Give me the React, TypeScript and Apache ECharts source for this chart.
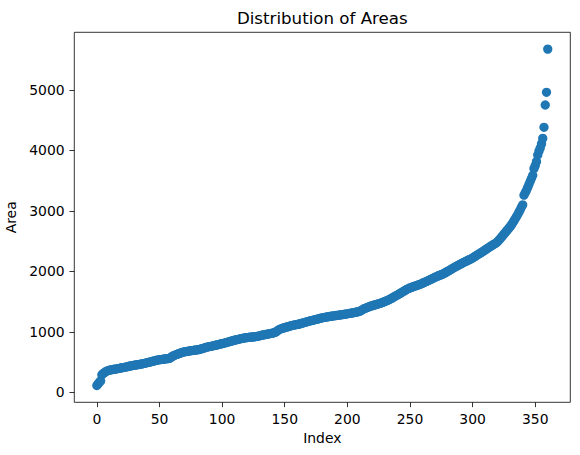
import React, { useEffect, useRef } from "react";
import * as echarts from "echarts";

const areas: number[] = [
  113, 140, 165, 190, 290, 310, 325, 340, 352, 360,
  365, 370, 374, 378, 382, 385, 389, 393, 397, 402,
  405, 409, 413, 418, 422, 427, 432, 437, 441, 446,
  449, 452, 455, 458, 462, 466, 470, 475, 480, 484,
  489, 494, 499, 505, 510, 515, 521, 526, 531, 535,
  539, 542, 545, 548, 551, 553, 556, 558, 560, 575,
  590, 603, 612, 620, 628, 636, 644, 652, 660, 666,
  670, 673, 676, 680, 684, 688, 691, 694, 697, 700,
  702, 705, 710, 716, 722, 728, 735, 742, 749, 753,
  757, 761, 765, 770, 775, 780, 785, 790, 795, 800,
  805, 810, 815, 821, 827, 833, 839, 845, 851, 857,
  862, 867, 872, 877, 882, 887, 891, 895, 899, 903,
  906, 909, 911, 913, 915, 917, 919, 922, 925, 930,
  935, 940, 945, 950, 954, 958, 962, 966, 970, 974,
  978, 982, 990, 1000, 1015, 1030, 1042, 1050, 1057, 1064,
  1070, 1076, 1082, 1088, 1095, 1101, 1106, 1110, 1114, 1118,
  1122, 1127, 1132, 1138, 1144, 1150, 1156, 1162, 1168, 1174,
  1180, 1185, 1190, 1195, 1200, 1205, 1210, 1216, 1222, 1228,
  1232, 1236, 1240, 1244, 1248, 1252, 1255, 1258, 1261, 1264,
  1267, 1270, 1273, 1276, 1279, 1282, 1285, 1288, 1291, 1294,
  1298, 1302, 1306, 1310, 1314, 1318, 1322, 1326, 1330, 1335,
  1342, 1352, 1365, 1378, 1388, 1396, 1404, 1412, 1420, 1428,
  1434, 1440, 1446, 1452, 1458, 1464, 1470, 1478, 1486, 1494,
  1502, 1510, 1520, 1530, 1540, 1550, 1562, 1575, 1588, 1600,
  1610, 1622, 1635, 1648, 1660, 1672, 1685, 1697, 1708, 1718,
  1727, 1735, 1743, 1750, 1757, 1764, 1771, 1778, 1786, 1795,
  1805, 1814, 1823, 1832, 1842, 1852, 1862, 1872, 1882, 1892,
  1902, 1912, 1922, 1930, 1938, 1946, 1955, 1965, 1975, 1988,
  2000, 2012, 2024, 2036, 2048, 2060, 2072, 2084, 2095, 2106,
  2117, 2128, 2139, 2150, 2160, 2170, 2180, 2190, 2200, 2210,
  2222, 2235, 2248, 2262, 2275, 2288, 2300, 2313, 2326, 2340,
  2354, 2368, 2382, 2396, 2410, 2423, 2436, 2448, 2460, 2475,
  2495, 2515, 2540, 2565, 2590, 2615, 2640, 2665, 2690, 2715,
  2740, 2770, 2800, 2835, 2870, 2905, 2940, 2980, 3020, 3065,
  3100, 3260, 3300, 3340, 3390, 3440, 3490, 3540, 3590, 3700,
  3750, 3815, 3925, 3990, 4040, 4110, 4200, 4383, 4752, 4962,
  5676,
];

const xTicks: number[] = [0, 50, 100, 150, 200, 250, 300, 350];
const yTicks: number[] = [0, 1000, 2000, 3000, 4000, 5000];

const titleText = "Distribution of Areas";
const xName = "Index";
const yName = "Area";

export default function App() {
  const ref = useRef<HTMLDivElement>(null);
  useEffect(() => {
    if (!ref.current) return;
    const chart = echarts.init(ref.current, null, { renderer: "svg" });
    const font = "DejaVu Sans";
    const n = areas.length;
    const span = Math.max(...areas) - Math.min(...areas);
    chart.setOption({
      animation: false,
      backgroundColor: "#ffffff",
      textStyle: { fontFamily: font },
      graphic: [
        {
          type: "text",
          x: 322.3,
          y: 18.5,
          style: {
            text: titleText,
            fontFamily: font,
            fontSize: 16.67,
            fill: "#000",
            textAlign: "center",
            textVerticalAlign: "middle",
          },
        },
      ],
      grid: {
        left: 74.3,
        top: 32.3,
        width: 496,
        height: 370,
        containLabel: false,
        outerBoundsMode: "none",
        show: true,
        borderColor: "#000",
        borderWidth: 0.8,
        backgroundColor: "transparent",
      },
      xAxis: {
        type: "value",
        min: -0.05 * (n - 1),
        max: 1.05 * (n - 1),
        name: xName,
        nameLocation: "middle",
        nameGap: 28,
        nameTextStyle: { fontFamily: font, fontSize: 13.9, color: "#000" },
        axisLine: { show: false, onZero: false },
        axisTick: {
          show: true,
          length: 4.86,
          lineStyle: { color: "#000", width: 0.8 },
          customValues: xTicks,
        },
        axisLabel: {
          show: true,
          margin: 9.7,
          fontFamily: font,
          fontSize: 13.9,
          color: "#000",
          customValues: xTicks,
          formatter: (v: number) => String(v),
        },
        splitLine: { show: false },
      },
      yAxis: {
        type: "value",
        min: Math.min(...areas) - 0.05 * span,
        max: Math.max(...areas) + 0.05 * span,
        name: yName,
        nameLocation: "middle",
        nameGap: 47,
        nameTextStyle: { fontFamily: font, fontSize: 13.9, color: "#000" },
        axisLine: { show: false, onZero: false },
        axisTick: {
          show: true,
          length: 4.86,
          lineStyle: { color: "#000", width: 0.8 },
          customValues: yTicks,
        },
        axisLabel: {
          show: true,
          margin: 9.7,
          fontFamily: font,
          fontSize: 13.9,
          color: "#000",
          customValues: yTicks,
          formatter: (v: number) => String(v),
        },
        splitLine: { show: false },
      },
      series: [
        {
          type: "scatter",
          data: areas.map((v, i) => [i, v]),
          symbol: "circle",
          symbolSize: 9.3,
          itemStyle: { color: "#1f77b4", opacity: 1 },
        },
      ],
    });
    return () => chart.dispose();
  }, []);
  return (
    <div
      ref={ref}
      style={{ position: "fixed", left: 0, top: 0, width: 580, height: 455 }}
    />
  );
}
